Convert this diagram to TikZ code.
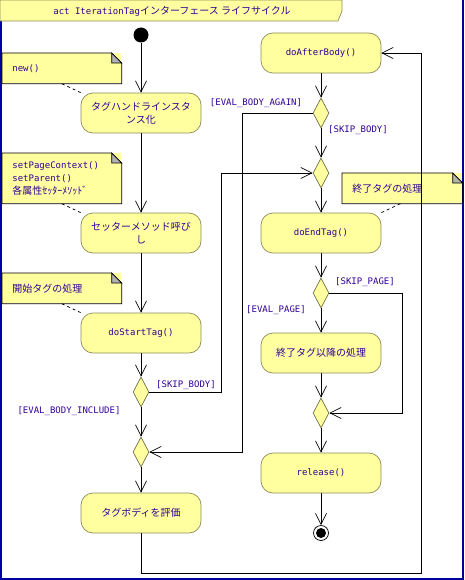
\documentclass[tikz,border=0pt]{standalone}
\usepackage{fontspec}
\setmainfont{DejaVu Sans Mono}
\newfontfamily\jpfont{Noto Sans CJK JP}
\newcommand{\jp}[1]{{\jpfont\fontsize{10}{13}\selectfont #1}}
\usepackage{tikz}
\usetikzlibrary{arrows.meta,shapes.geometric,positioning,calc}
\definecolor{umlfill}{RGB}{255,255,160}
\definecolor{umlline}{RGB}{140,140,90}
\definecolor{umltext}{RGB}{48,0,150}
\definecolor{umlframe}{RGB}{0,0,160}
\tikzset{
  action/.style={rectangle,rounded corners=12pt,draw=umlline,fill=umlfill,
    minimum width=120pt,minimum height=40pt,inner sep=2pt,align=center,text=umltext},
  decision/.style={diamond,draw=umlline!80!black,fill=umlfill,minimum width=16pt,
    minimum height=30pt,inner sep=0pt},
  notebox/.style={rectangle,fill=umlfill,anchor=north west,inner xsep=10pt,
    align=left,text=umltext},
  guard/.style={text=umltext,inner sep=1pt},
  >={Straight Barb[length=11pt,width=11pt]}
}

\begin{document}
\begin{tikzpicture}[x=1pt,y=-1pt,font=\fontsize{9}{13}\selectfont,line width=0.7pt]
\useasboundingbox (0,0) rectangle (464,580);
% frame and title
\draw[umlframe,line width=1.6pt] (1,0) -- (1,579) -- (463,579) -- (463,0);
\filldraw[fill=umlfill,draw=umlline] (0,0) -- (342,0) -- (342,11) -- (338,21) -- (0,21) -- cycle;
\node[text=umltext] (title) at (172,11) {act IterationTag\jp{インターフェース ライフサイクル}};

% notes
\node[notebox,text width=99pt,minimum height=30pt] (n1) at (2,53) {new()};
\node[notebox,text width=99pt,minimum height=50pt] (n2) at (2,153)
  {setPageContext()\\setParent()\\\jp{各属性ｾｯﾀｰﾒｿｯﾄﾞ}};
\node[notebox,text width=99pt,minimum height=30pt] (n3) at (2,273) {\jp{開始タグの処理}};
\node[notebox,text width=100pt,minimum height=30pt] (n4) at (342,173) {\jp{終了タグの処理}};
\foreach \n in {n1,n2,n3,n4}{
  \draw (\n.north west) -- ([xshift=-10pt]\n.north east) -- ([yshift=-10pt]\n.north east)
    -- (\n.south east) -- (\n.south west) -- cycle;
  \filldraw[fill=gray!60,draw=black] ([xshift=-10pt]\n.north east) -- ([yshift=-10pt]\n.north east)
    -- ([xshift=-10pt,yshift=-10pt]\n.north east) -- cycle;
}

% start and end
\node[circle,fill=black,minimum size=15pt,inner sep=0pt] (init) at (141,35) {};
\node[circle,draw,fill=white,minimum size=15pt,inner sep=0pt] (final) at (321,533) {};
\fill (final.center) circle (5pt);

% actions
\node[action] (a1) at (141,113) {\jp{タグハンドラインスタ}\\\jp{ンス化}};
\node[action] (a2) at (141,233) {\jp{セッターメソッド呼び}\\\jp{し}};
\node[action] (a3) at (141,333) {doStartTag()};
\node[action] (a4) at (141,513) {\jp{タグボディを評価}};
\node[action] (a5) at (321,53) {doAfterBody()};
\node[action] (a6) at (321,233) {doEndTag()};
\node[action] (a7) at (321,353) {\jp{終了タグ以降の処理}};
\node[action] (a8) at (321,473) {release()};

% decisions
\foreach \n/\x/\y in {d1/141/392, d2/141/452, d3/321/173, d4/321/113, d5/321/293, d6/321/413}
  \node[decision] (\n) at (\x,\y) {};

% note links
\draw[dashed] (n1.south) -- (a1.north west);
\draw[dashed] (n2.south) -- (a2.north west);
\draw[dashed] (n3.south) -- (a3.north west);
\draw[dashed] ([xshift=-2pt]n4.south) -- (a6.north east);

% flow
\foreach \a/\b in {init/a1, a1/a2, a2/a3, a3/d1, d1/d2, d2/a4, a5/d4, d4/d3, d3/a6, a6/d5, d5/a7, a7/d6, d6/a8, a8/final}
  \draw[->] (\a.south) -- (\b.north);
\coordinate (c1) at (221,392);
\coordinate (c2) at (242,113);
\coordinate (c3) at (141,573);
\coordinate (c4) at (421,573);
\coordinate (c5) at (402,293);
\draw[->] (d1.east) -- (c1) |- (d3.west);
\draw[->] (d4.west) -- (c2) |- (d2.east);
\draw[->] (a4.south) -- (c3) -- (c4) |- (a5.east);
\draw[->] (d5.east) -- (c5) |- (d6.east);

% guards
\node[guard] (g1) at (186,385) {[SKIP\_BODY]};
\node[guard] (g2) at (69,411) {[EVAL\_BODY\_INCLUDE]};
\node[guard] (g3) at (256,103) {[EVAL\_BODY\_AGAIN]};
\node[guard] (g4) at (358,130) {[SKIP\_BODY]};
\node[guard] (g5) at (365,282) {[SKIP\_PAGE]};
\node[guard] (g6) at (276,310) {[EVAL\_PAGE]};
\end{tikzpicture}
\end{document}
